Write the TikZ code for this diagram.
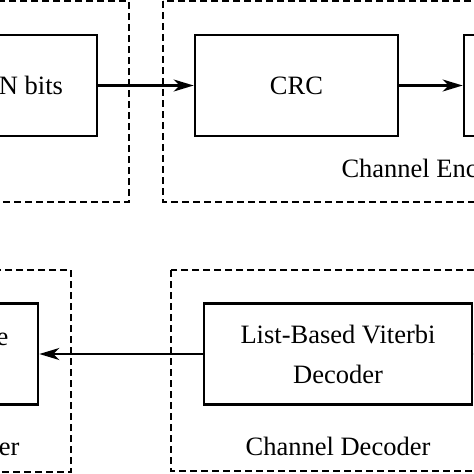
\documentclass[tikz,border=0pt]{standalone}
\usepackage{fontspec}
\setmainfont{Liberation Serif}
\usetikzlibrary{arrows.meta}

\tikzset{
  blockbox/.style={draw, line width=2.7pt, inner sep=0pt, minimum height=101pt},
  groupbox/.style={draw, line width=2pt, dash pattern=on 7pt off 4pt},
  flow/.style={-{Stealth[length=20pt,width=12pt,inset=6pt]}, line width=2.4pt},
}

\begin{document}
\begin{tikzpicture}[x=1pt, y=-1pt, font=\fontsize{26.5pt}{40pt}\selectfont]
\useasboundingbox (0,0) rectangle (474,474);
\clip (0,0) rectangle (474,474);

% dashed groups
\draw[groupbox] (-60,1) rectangle (129,202);
\draw[groupbox] (163,1) rectangle (600,202);
\draw[groupbox] (-60,270) rectangle (71,472);
\draw[groupbox] (171,270) rectangle (600,471);

% top row
\node[blockbox, minimum width=132pt] (bits) at (31,85.5) {N bits};
\node[blockbox, minimum width=203pt] (crc) at (296.5,85.5) {CRC};
\node[blockbox, minimum width=203pt] (enc) at (565.5,85.5) {};
\node[anchor=base west] (enclabel) at (338,177) {Channel Encoder};

\draw[flow] (bits) -- (crc);
\draw[flow] (crc) -- (enc);

% bottom row
\node[blockbox, minimum width=132pt] (sink) at (-28,354) {};
\node[anchor=base east] (sinktext) at (12,345) {e};
\node[anchor=base east] (sinklabel) at (23,455) {er};
\node[blockbox, minimum width=268pt, align=center] (dec) at (338,354)
  {List-Based Viterbi\\Decoder};
\node[anchor=base] (declabel) at (338,455) {Channel Decoder};
\coordinate (feed) at (520,354);

\draw[flow] (feed) -- (dec);
\draw[flow] (dec) -- (sink);
\end{tikzpicture}
\end{document}
